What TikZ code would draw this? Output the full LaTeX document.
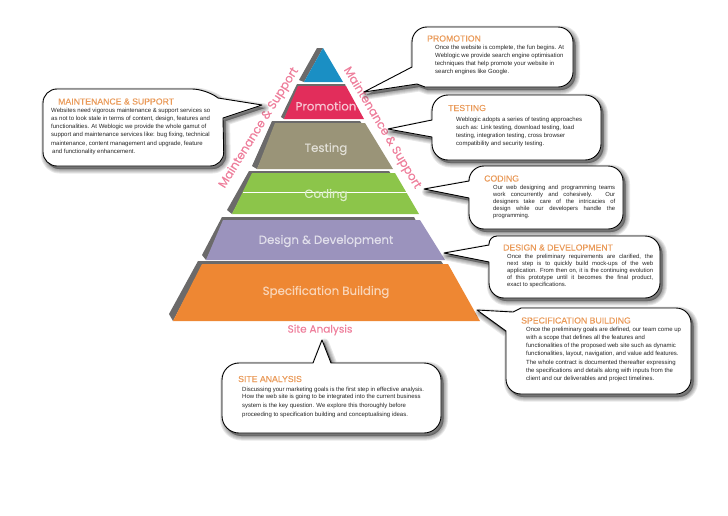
\documentclass[tikz,border=0pt]{standalone}
\usepackage{fontspec}
\setmainfont{Liberation Sans}
\newfontfamily\layerfont[FakeBold=0.25]{Poppins}
\newfontfamily\titlefont[FakeBold=0.2]{Liberation Sans}
\definecolor{titleorange}{HTML}{EA9A58}
\definecolor{layerpink}{HTML}{EE7F9C}
\definecolor{layergray}{HTML}{6B6A6A}
\definecolor{layerblue}{HTML}{1A8FC4}
\definecolor{layerred}{HTML}{E22D5B}
\definecolor{layerkhaki}{HTML}{9A9478}
\definecolor{layergreen}{HTML}{8CC54A}
\definecolor{layerpurple}{HTML}{9B93BD}
\definecolor{layerorange}{HTML}{EE8733}
\tikzset{
    bubble/.style={draw=black, line width=0.9pt, fill=white, line join=round},
    bubbleshade/.style={draw=black, fill=black, opacity=0.09, line join=round},
    bubbletitle/.style={anchor=west, inner sep=0pt, text=titleorange, font=\titlefont\fontsize{8.7}{9}\selectfont},
    bubbletext/.style={anchor=north west, inner sep=0pt, text=black!85, align=left,
        font=\fontsize{6}{8.3}\selectfont},
    bubblejust/.style={bubbletext, align=justify, font=\fontsize{5.9}{7}\selectfont},
    layertext/.style={inner sep=0pt, font=\layerfont\fontsize{#1}{#1}\selectfont},
    sidetext/.style={inner sep=0pt, text=layerpink, font=\layerfont\fontsize{11.8}{12}\selectfont}
}
\newcommand{\bubblepath}[1]{
    \foreach \w in {9,7,5,3,1} {
        \draw[bubbleshade, line width=\w pt, shift={(2.5,3)}] #1;
    }
    \draw[bubble] #1;
}
\begin{document}
\begin{tikzpicture}[x=1pt, y=-1pt]
    \useasboundingbox (0,0) rectangle (728,515);

    % Gray bands behind the layers
    \fill[layergray] (317,48) -- (323,48) -- (304,82) -- (299,80) -- cycle;
    \fill[layergray] (297,84) -- (345,84) -- (346,87) -- (300,87) -- (284,119) -- (281,117) -- cycle;
    \fill[layergray] (272,121) -- (360,121) -- (362,124) -- (277,124) -- (257,169) -- (252,166) -- cycle;
    \fill[layergray] (249,171) -- (389,171) -- (391,174) -- (253,174) -- (232,214) -- (227,210) -- cycle;
    \fill[layergray] (222,217) -- (414,217) -- (416,221) -- (226,221) -- (206,260) -- (202,255) -- cycle;
    \fill[layergray] (198,261) -- (441,261) -- (443,264) -- (203,264) -- (173,321) -- (169,314) -- cycle;

    % Layers
    \fill[layerblue] (323,48) -- (343,82) -- (304,82) -- cycle;
    \fill[layerred] (298,86) -- (346,86) -- (364,119) -- (284,119) -- cycle;
    \fill[layerkhaki] (275,123) -- (365,123) -- (393,169) -- (257,169) -- cycle;
    \fill[layergreen] (252,173) -- (395,173) -- (419,214) -- (232,214) -- cycle;
    \fill[layerpurple] (223,220) -- (420,220) -- (445,260) -- (206,260) -- cycle;
    \fill[layerorange] (202,264) -- (448,264) -- (480,321) -- (173,321) -- cycle;
    \draw[white, line width=0.25pt] (243,192) -- (408,192);

    % Layer labels
    \node[layertext=11.8, text=layerpink!45!white] (promotionlabel) at (326,106) {Promotion};
    \node[layertext=11.8, text=layerkhaki!30!white] (testinglabel) at (326,149) {Testing};
    \node[layertext=11.8, text=layergreen!30!white] (codinglabel) at (326,195) {Coding};
    \node[layertext=11.8, text=layerpurple!30!white] (designlabel) at (326,241) {Design \& Development};
    \node[layertext=11.8, text=layerorange!35!white] (speclabel) at (326,292) {Specification Building};

    % Labels round the pyramid
    \node[sidetext, rotate=58] (leftside) at (259,128) {Maintenance \& Support};
    \node[sidetext, rotate=-59] (rightside) at (382,128) {Maintenance \& Support};
    \node[sidetext, font=\layerfont\fontsize{10.5}{11}\selectfont] (sitelabel) at (320,330) {Site Analysis};

    % Bubbles
    \bubblepath{(417,84) -- (425,87) [rounded corners=15pt] -- (573,87) -- (573,27) -- (412,27) [sharp corners] -- (412,67) -- (364,92) -- cycle}
    \bubblepath{(432,137) [rounded corners=16pt] -- (432,160) -- (601,160) -- (601,95) -- (432,95) [sharp corners] -- (432,120) -- (388,129) -- cycle}
    \bubblepath{(469,198) [rounded corners=15pt] -- (469,229) -- (623,229) -- (623,166) -- (469,166) [sharp corners] -- (469,181) -- (424,189) -- cycle}
    \bubblepath{(489,262) [rounded corners=15pt] -- (489,298) -- (660,298) -- (660,236) [rounded corners=8pt] -- (489,236) [sharp corners] -- (489,245) -- (444,253) -- cycle}
    \bubblepath{(506,331) [rounded corners=15pt] -- (506,394) -- (691,394) -- (691,308) [sharp corners] -- (521,308) -- (513,312) -- (477,310) -- cycle}
    \bubblepath{(331,363) [rounded corners=17pt] -- (441,363) -- (441,433) -- (222,433) -- (222,363) [sharp corners] -- (313,363) -- (322,340) -- cycle}
    \bubblepath{(223,118) [rounded corners=14pt] -- (224,166) -- (43,166) -- (43,89) -- (206,89) [sharp corners] -- (218,98) -- (262,105) -- cycle}

    % Promotion text
    \node[bubbletitle] (promotiontitle) at (427,38.5) {PROMOTION};
    \node[bubbletext] (promotionbody) at (435,44.5) {Once the website is complete, the fun begins. At\\
        Weblogic we provide search engine optimisation\\
        techniques that help promote your website in\\
        search engines like Google.};

    % Testing text
    \node[bubbletitle] (testingtitle) at (448,108) {TESTING};
    \node[bubbletext] (testingbody) at (456,116.5) {Weblogic adopts a series of testing approaches\\
        such as: Link testing, download testing, load\\
        testing, integration testing, cross browser\\
        compatibility and security testing.};

    % Coding text
    \node[bubbletitle] (codingtitle) at (484,178.5) {CODING};
    \node[bubblejust, text width=122pt] (codingbody) at (493,185) {Our web designing and programming teams\linebreak
        work concurrently and cohesively. Our\linebreak
        designers take care of the intricacies of\linebreak
        design while our developers handle the\linebreak
        programming.};

    % Design text
    \node[bubbletitle] (designtitle) at (503,247.5) {DESIGN \& DEVELOPMENT};
    \node[bubblejust, text width=146pt] (designbody) at (507,254) {Once the preliminary requirements are clarified, the\linebreak
        next step is to quickly build mock-ups of the web\linebreak
        application. From then on, it is the continuing evolution\linebreak
        of this prototype until it becomes the final product,\linebreak
        exact to specifications.};

    % Specification text
    \node[bubbletitle] (spectitle) at (521,320.5) {SPECIFICATION BUILDING};
    \node[bubbletext] (specbody) at (526,326.5) {Once the preliminary goals are defined, our team come up\\
        with a scope that defines all the features and\\
        functionalities of the proposed web site such as dynamic\\
        functionalities, layout, navigation, and value add features.\\
        The whole contract is documented thereafter expressing\\
        the specifications and details along with inputs from the\\
        client and our deliverables and project timelines.};

    % Site analysis text
    \node[bubbletitle] (sitetitle) at (238,379) {SITE ANALYSIS};
    \node[bubbletext] (sitebody) at (242,387) {Discussing your marketing goals is the first step in effective analysis.\\[-1.5pt]
        How the web site is going to be integrated into the current business\\[0.7pt]
        system is the key question. We explore this thoroughly before\\[0.7pt]
        proceeding to specification building and conceptualising ideas.};

    % Maintenance text
    \node[bubbletitle] (maintitle) at (58,101.5) {MAINTENANCE \& SUPPORT};
    \node[bubbletext] (mainbody) at (51,107.5) {Websites need vigorous maintenance \& support services so\\
        as not to look stale in terms of content, design, features and\\
        functionalities. At Weblogic we provide the whole gamut of\\
        support and maintenance services like: bug fixing, technical\\
        maintenance, content management and upgrade, feature\\
        \hspace{1pt}and functionality enhancement.};
\end{tikzpicture}
\end{document}
